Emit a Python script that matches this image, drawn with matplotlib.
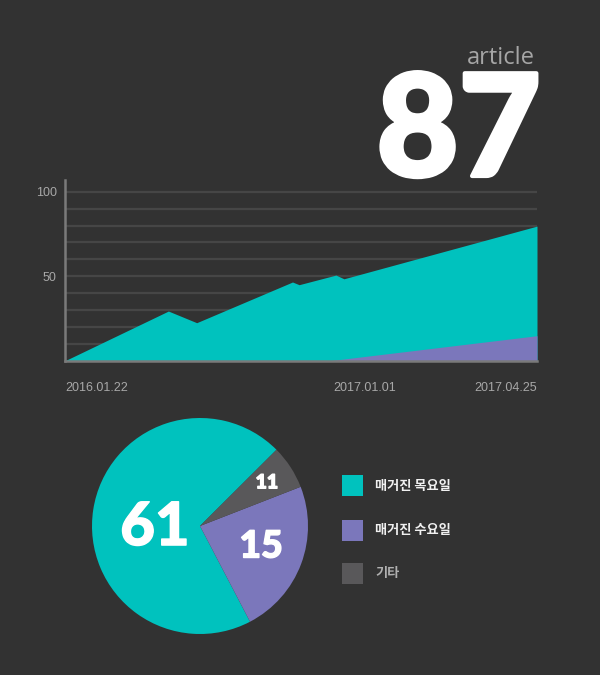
import matplotlib
matplotlib.use("Agg")
import matplotlib.pyplot as plt
import matplotlib.patheffects as pe
from matplotlib.patches import Rectangle

# 데이터
x_pos = [0, 21.9, 27.9, 48.2, 49.6, 57.4, 59.1, 100]
thu_vals = [0, 29.4, 22.5, 46.6, 45.0, 50.7, 48.5, 79.7]
wed_x = [0, 56.1, 100]
wed_vals = [0, 0, 14.8]
x_tick_pos = [0, 63.5, 100]
x_tick_labels = ["2016.01.22", "2017.01.01", "2017.04.25"]
y_tick_pos = [50, 100]
grid_levels = [10, 20, 30, 40, 50, 60, 70, 80, 90, 100]

total_articles = 87
pie_labels = ["61", "15", "11"]
pie_share = [61, 20.2, 5.7]   # 그림에 그려진 조각 크기
legend_names = ["매거진 목요일", "매거진 수요일", "기타"]

BG = "#323232"
TEAL = "#00c2be"
PURPLE = "#7b77bb"
GRAY = "#59585a"
TXT = "#a8a8a8"
colors = [TEAL, PURPLE, GRAY]

fig = plt.figure(figsize=(6, 6.75), dpi=100, facecolor=BG)

# 면적 그래프
ax = fig.add_axes([65 / 600, 314.3 / 675, 472 / 600, 180.7 / 675])
ax.set_facecolor(BG)
for g in grid_levels:
    ax.axhline(g, color="#464646", lw=1.6, zorder=1)
ax.fill_between(x_pos, thu_vals, color=TEAL, lw=0, zorder=2)
ax.fill_between(wed_x, wed_vals, color=PURPLE, lw=0, zorder=3)
ax.set_xlim(0, 100)
ax.set_ylim(0, 107)
for s in ["top", "right"]:
    ax.spines[s].set_visible(False)
for s in ["left", "bottom"]:
    ax.spines[s].set_color("#7a7a7a")
    ax.spines[s].set_linewidth(1.8)
    ax.spines[s].set_zorder(4)
ax.set_yticks(y_tick_pos)
ax.set_yticklabels([str(v) for v in y_tick_pos])
ax.set_xticks(x_tick_pos)
ax.set_xticklabels(x_tick_labels)
ax.tick_params(axis="both", length=0, colors=TXT, labelsize=9)
ax.tick_params(axis="x", pad=15)
ax.tick_params(axis="y", pad=6)
xl = ax.get_xticklabels()
xl[0].set_ha("left")
xl[-1].set_ha("right")
for t in xl + ax.get_yticklabels():
    t.set_fontfamily("Liberation Sans")

# 큰 숫자
fig.text(541 / 600, 1 - 176 / 675, str(total_articles), ha="right", va="baseline",
         color="white", fontsize=102, fontweight="black", family="Lato",
         path_effects=[pe.withStroke(linewidth=3, foreground="white")])
fig.text(535 / 600, 1 - 63.5 / 675, "article", ha="right", va="baseline",
         color="#a6a6a6", fontsize=17, family="Open Sans")

# 파이 차트
pax = fig.add_axes([92 / 600, (675 - 526 - 108) / 675, 216 / 600, 216 / 675])
pax.pie(pie_share, colors=colors, startangle=44.9, counterclock=True,
        wedgeprops=dict(linewidth=0))
pax.set_xlim(-1, 1)
pax.set_ylim(-1, 1)
label_xy = [(-0.417, -0.01), (0.565, -0.19), (0.62, 0.40)]
label_size = [43, 27, 14]
for lab, (lx, ly), fs in zip(pie_labels, label_xy, label_size):
    pax.text(lx, ly, lab, ha="center", va="center", color="white",
             fontsize=fs, fontweight="black", family="Lato",
             path_effects=[pe.withStroke(linewidth=1, foreground="white")])

# 범례
legend_y = [485.7, 530, 573]
text_colors = ["#f0f0f0", "#f0f0f0", "#b0b0b0"]
for name, c, yy, tc in zip(legend_names, colors, legend_y, text_colors):
    fig.add_artist(Rectangle((342 / 600, 1 - (yy + 10.5) / 675), 21 / 600, 21 / 675,
                             transform=fig.transFigure, color=c, lw=0))
    fig.text(375 / 600, 1 - yy / 675, name, ha="left", va="center", color=tc,
             fontsize=9.5, fontweight="bold", family=["Noto Sans CJK KR", "DejaVu Sans"])

fig.savefig("out.png", dpi=100, facecolor=BG)
